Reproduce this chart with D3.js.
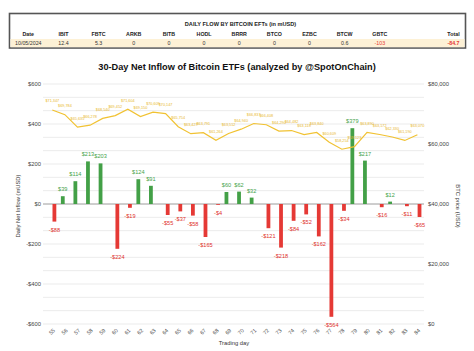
<!DOCTYPE html>
<html><head><meta charset="utf-8">
<script src="https://cdn.jsdelivr.net/npm/d3@7/dist/d3.min.js"></script>
<style>
body{margin:0;background:#fff;}
svg{display:block;font-family:"Liberation Sans",Arial,sans-serif;}
</style></head>
<body><svg id="c" width="474" height="351"></svg>
<script>
// ---- data ----
const tableTitle = "DAILY FLOW BY BITCOIN EFTs (in mUSD)";
const tableHeaders = ["Date","IBIT","FBTC","ARKB","BITB","HODL","BRRR","BTCO","EZBC","BTCW","GBTC","Total"];
const tableValues = ["10/05/2024","12.4","5.3","0","0","0","0","0","0","0.6","-103","-84.7"];

const tradingDays = d3.range(55, 85);
const netFlow = [-88, 39, 114, 213, 203, -224, -19, 124, 91, -55, -37, -58, -165, -4, 60, 62, 32, -121, -218, -84, -52, -162, -564, -34, 379, 217, -16, 12, -11, -65];
const btcPrice = [71347, 69784, 65635, 66278, 68540, 69452, 71604, 69150, 70609, 70147, 65754, 63427, 63791, 61264, 63512, 64940, 66837, 66408, 64290, 64482, 63118, 63840, 60609, 58254, 59123, 63890, 63172, 62330, 61190, 63070];
const leftTicks = [-600, -400, -200, 0, 200, 400, 600];
const rightTicks = [0, 20000, 40000, 60000, 80000];

const title = "30-Day Net Inflow of Bitcoin ETFs (analyzed by @SpotOnChain)";
const yLeftTitle = "Daily Net Inflow (mUSD)";
const yRightTitle = "BTC price (USD)";
const xTitle = "Trading day";

// ---- drawing ----
const svg = d3.select("#c");
const GREEN = "#43a047", RED = "#e53935", GOLD = "#f1c232";

// table
const tbl = svg.append("g");
tbl.append("rect").attr("x",9.5).attr("y",13.5).attr("width",456).attr("height",34.5)
  .attr("fill","#fff").attr("stroke","#555").attr("stroke-width",1.6);
tbl.append("rect").attr("x",10.5).attr("y",39).attr("width",454).attr("height",8.2).attr("fill","#fdf1d6");
tbl.append("text").attr("x",240.5).attr("y",26).attr("text-anchor","middle")
  .attr("font-size",5.6).attr("font-weight","bold").attr("fill","#222").text(tableTitle);
const colX = d3.scalePoint().domain(tableHeaders).range([28.3, 415]);
const colPos = h => h === "Total" ? 453.5 : colX(h);
tbl.selectAll(".th").data(tableHeaders).join("text")
  .attr("x", d => colPos(d)).attr("y",36.2).attr("text-anchor","middle")
  .attr("font-size",5.3).attr("font-weight","bold").attr("fill","#222").text(d=>d);
tbl.selectAll(".tv").data(tableValues).join("text")
  .attr("x",(d,i)=>colPos(tableHeaders[i])).attr("y",45).attr("text-anchor","middle")
  .attr("font-size",5.3).attr("font-weight",(d,i)=> tableHeaders[i]==="Total"?"bold":"normal")
  .attr("fill", d => d.startsWith("-") ? "#e53935" : "#333").text(d=>d);

// title
svg.append("text").attr("x",237).attr("y",69.5).attr("text-anchor","middle")
  .attr("font-size",9.2).attr("font-weight","bold").attr("fill","#111").text(title);

// scales
const x = d3.scaleBand().domain(tradingDays).range([46, 423.7]).paddingInner(0).paddingOuter(0);
const bw = x.bandwidth();
const xs = d3.scaleBand().domain(["inflow","outflow"]).range([bw/2-4, bw/2+4]).paddingInner(0.1);
const yL = d3.scaleLinear().domain([-600, 600]).range([324, 84]);
const yR = d3.scaleLinear().domain([0, 80000]).range([324, 84]);
const cx = d => x(d) + bw/2;

// gridlines (18 divisions)
const grid = d3.range(19).map(i => -600 + i * 1200 / 18);
svg.append("g").selectAll("line").data(grid).join("line")
  .attr("x1",43).attr("x2",424).attr("y1",d=>yL(d)).attr("y2",d=>yL(d))
  .attr("stroke","#e6e6e6").attr("stroke-width",0.8);
svg.append("line").attr("x1",43).attr("x2",424).attr("y1",yL(0)).attr("y2",yL(0))
  .attr("stroke","#9e9e9e").attr("stroke-width",0.9);

// left axis
const axL = d3.axisLeft(yL).tickValues(leftTicks).tickSize(0).tickPadding(0)
  .tickFormat(v => (v < 0 ? "-$" : "$") + Math.abs(v));
const gL = svg.append("g").attr("transform","translate(41,0)").call(axL);
gL.select(".domain").remove();
gL.selectAll("text").attr("font-size",5.8).attr("fill","#444").attr("font-family","Liberation Sans, Arial, sans-serif");

// right axis
const axR = d3.axisRight(yR).tickValues(rightTicks).tickSize(0).tickPadding(0)
  .tickFormat(v => "$" + d3.format(",")(v));
const gR = svg.append("g").attr("transform","translate(428,0)").call(axR);
gR.select(".domain").remove();
gR.selectAll("text").attr("font-size",5.8).attr("fill","#444").attr("font-family","Liberation Sans, Arial, sans-serif");

// x axis labels
svg.append("g").selectAll("text").data(tradingDays).join("text")
  .attr("transform", d => `translate(${cx(d)+1},${333}) rotate(-45)`)
  .attr("text-anchor","middle").attr("font-size",5.4).attr("fill","#444").text(d=>d);

// axis titles
svg.append("text").attr("transform","translate(19.5,206) rotate(-90)").attr("text-anchor","middle")
  .attr("font-size",5.8).attr("fill","#333").text(yLeftTitle);
svg.append("text").attr("transform","translate(455.5,206) rotate(90)").attr("text-anchor","middle")
  .attr("font-size",5.8).attr("fill","#333").text(yRightTitle);
svg.append("text").attr("x",234).attr("y",344.5).attr("text-anchor","middle")
  .attr("font-size",5.8).attr("fill","#333").text(xTitle);

// bars
const flows = tradingDays.map((d,i) => ({day:d, v:netFlow[i], s: netFlow[i] >= 0 ? "inflow" : "outflow"}));
svg.append("g").selectAll("rect").data(flows).join("rect")
  .attr("x", d => x(d.day) + xs(d.s)).attr("width", xs.bandwidth())
  .attr("y", d => yL(Math.max(0, d.v))).attr("height", d => Math.max(0.8, Math.abs(yL(d.v) - yL(0))))
  .attr("fill", d => d.s === "inflow" ? GREEN : RED);

// bar labels
svg.append("g").selectAll("text").data(flows).join("text")
  .attr("x", d => x(d.day) + xs(d.s) + xs.bandwidth()/2)
  .attr("y", d => d.v >= 0 ? yL(d.v) - 5 : yL(d.v) + 10)
  .attr("text-anchor","middle").attr("font-size",5.6)
  .attr("fill", d => d.s === "inflow" ? "#46a34a" : "#e0302c")
  .text(d => (d.v < 0 ? "-$" : "$") + Math.abs(d.v));

// price line
const pts = tradingDays.map((d,i) => ({day:d, p:btcPrice[i]}));
svg.append("path").datum(pts)
  .attr("d", d3.line().x(d => cx(d.day)).y(d => yR(d.p)))
  .attr("fill","none").attr("stroke",GOLD).attr("stroke-width",1.2);
svg.append("g").selectAll("text").data(pts).join("text")
  .attr("x", d => cx(d.day)).attr("y", d => yR(d.p) - 7.5)
  .attr("text-anchor","middle").attr("font-size",3.8).attr("fill","#e9b930")
  .text(d => "$" + d3.format(",")(d.p));
</script></body></html>
